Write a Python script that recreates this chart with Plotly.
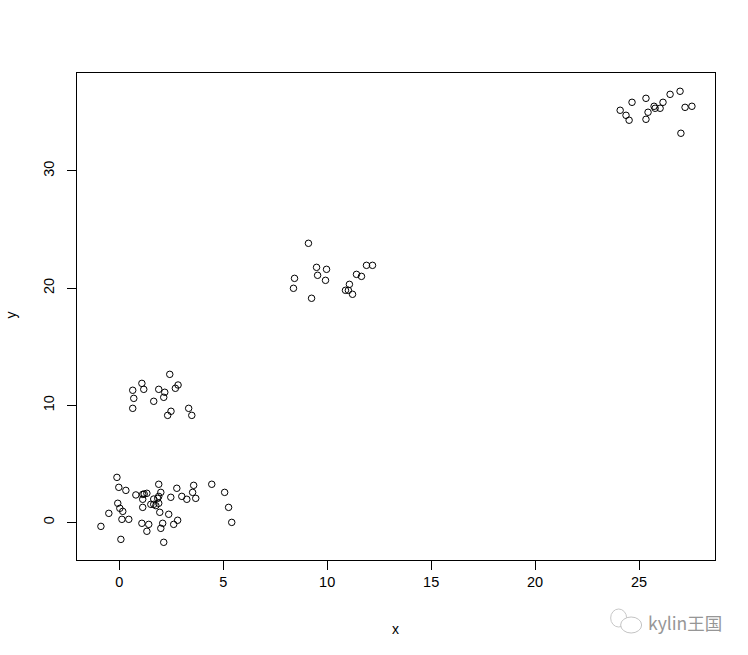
import plotly.graph_objects as go

x_values = [
    2.43, 1.09, 2.83, 2.70, 0.65, 1.18, 1.90, 2.19, 2.14, 0.70, 1.66, 0.65, 3.34, 2.49, 2.33, 3.49,
    -0.11, -0.02, 0.32, 0.80, 1.90, 2.00, 2.77, 3.58, 3.53, 4.45, 5.07, 2.48, 3.01, 3.25, 3.68,
    1.13, 1.20, 1.33, 1.13, 1.66, 1.90, 1.85, 1.52, 1.66, 1.76, 1.90, 1.13, -0.07, 0.03, 0.17,
    -0.50, 1.95, 2.38, 5.26, 0.13, 0.46, 1.09, 1.42, 2.09, 2.81, 2.62, 2.00, 1.33, 5.41, -0.88,
    0.08, 2.14,
    9.10, 9.49, 9.97, 9.54, 9.92, 8.43, 8.38, 9.25, 11.07, 10.88, 11.02, 11.22, 11.41, 11.65, 11.89, 12.18,
    24.09, 24.37, 24.52, 24.66, 25.33, 25.33, 25.43, 25.72, 25.77, 26.01, 26.15, 26.49, 26.97, 27.21, 27.54, 27.01,
]
y_values = [
    12.64, 11.87, 11.73, 11.45, 11.28, 11.36, 11.36, 11.11, 10.68, 10.59, 10.34, 9.74, 9.74, 9.49, 9.14, 9.14,
    3.85, 3.00, 2.74, 2.35, 3.26, 2.57, 2.92, 3.17, 2.57, 3.26, 2.57, 2.15, 2.23, 1.98, 2.06,
    2.40, 2.43, 2.49, 1.98, 2.00, 2.23, 2.06, 1.55, 1.55, 1.44, 1.64, 1.29, 1.64, 1.21, 0.95,
    0.78, 0.87, 0.70, 1.29, 0.27, 0.27, -0.07, -0.16, -0.07, 0.19, -0.16, -0.50, -0.75, 0.01, -0.33,
    -1.44, -1.69,
    23.82, 21.77, 21.60, 21.09, 20.66, 20.83, 19.98, 19.13, 20.32, 19.81, 19.81, 19.47, 21.17, 21.00, 21.94, 21.94,
    35.17, 34.74, 34.32, 35.85, 36.19, 34.40, 35.00, 35.51, 35.34, 35.34, 35.85, 36.53, 36.79, 35.42, 35.51, 33.21,
]
x_ticks = [0, 5, 10, 15, 20, 25]
y_ticks = [0, 10, 20, 30]

FONT = "Liberation Sans, Arial, sans-serif"

fig = go.Figure(go.Scatter(
    x=x_values, y=y_values, mode="markers",
    marker=dict(symbol="circle-open", size=6.5, color="black", line=dict(width=1, color="black")),
    showlegend=False, hoverinfo="skip",
))

axis_common = dict(
    showgrid=False, zeroline=False, showline=True, mirror=True,
    linecolor="black", linewidth=1, ticks="outside", ticklen=9,
    tickcolor="black", tickwidth=1, color="black",
    tickfont=dict(family=FONT, size=14.5, color="black"),
)
fig.update_xaxes(range=[-2.03, 28.65], tickvals=x_ticks, ticktext=[str(v) for v in x_ticks], **axis_common)
fig.update_yaxes(range=[-3.2, 38.35], tickvals=y_ticks, ticktext=[str(v) for v in y_ticks],
                 tickangle=-90, ticklabelstandoff=7, **axis_common)

fig.update_layout(
    width=748, height=655, autosize=False,
    margin=dict(l=76.5, r=32.5, t=73, b=95, pad=0),
    paper_bgcolor="white", plot_bgcolor="white",
    font=dict(family=FONT, color="black"),
    annotations=[
        dict(text="x", xref="paper", yref="paper", x=(395 - 76.5) / 639, y=-(629 - 560) / 487,
             showarrow=False, font=dict(family=FONT, size=14), xanchor="center", yanchor="middle"),
        dict(text="y", xref="paper", yref="paper", x=-(76.5 - 10) / 639, y=(560 - 315) / 487,
             showarrow=False, font=dict(family=FONT, size=14), textangle=-90, xanchor="center", yanchor="middle"),
        dict(text="kylin王国", xref="paper", yref="paper", x=(725 - 76.5) / 639, y=-(622 - 560) / 487,
             showarrow=False, font=dict(family="Noto Sans CJK SC, Liberation Sans", size=17.5, color="#969696"),
             xanchor="right", yanchor="middle"),
    ],
    shapes=[
        dict(type="circle", xref="paper", yref="paper",
             x0=(611 - 76.5) / 639, x1=(627 - 76.5) / 639,
             y0=-(627 - 560) / 487, y1=-(609 - 560) / 487,
             line=dict(color="#c8c8c8", width=1)),
        dict(type="circle", xref="paper", yref="paper",
             x0=(621 - 76.5) / 639, x1=(642 - 76.5) / 639,
             y0=-(633 - 560) / 487, y1=-(617 - 560) / 487,
             line=dict(color="#c4c4c4", width=1), fillcolor="white"),
    ],
)

fig.write_html("out.html", config={"displayModeBar": False},
               post_script="document.body.style.margin='0';")
